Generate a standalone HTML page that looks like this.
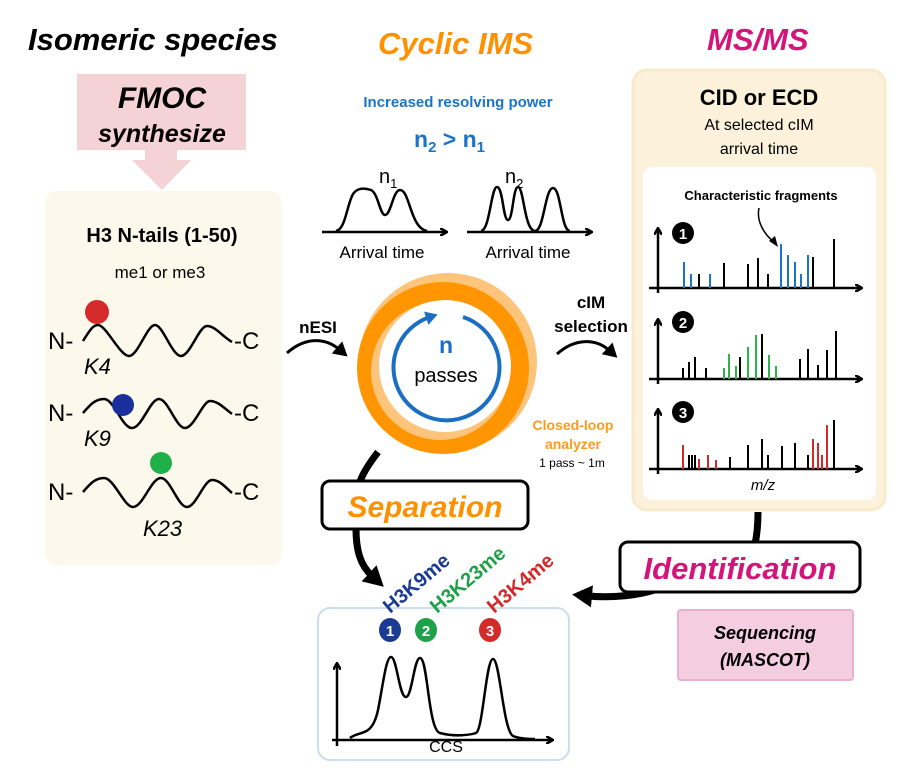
<!DOCTYPE html>
<html><head><meta charset="utf-8"><style>
html,body{margin:0;padding:0;background:#fff;}
svg{display:block;font-family:"Liberation Sans",Arial,sans-serif;}
</style></head><body>
<svg width="911" height="780" viewBox="0 0 911 780" xmlns="http://www.w3.org/2000/svg">
<defs>
<marker id="ah" markerWidth="8" markerHeight="8" refX="6" refY="4" orient="auto" markerUnits="userSpaceOnUse">
<path d="M0,0 L7,4 L0,8" fill="none" stroke="#000" stroke-width="2.5"/></marker>
<marker id="bh" markerWidth="14" markerHeight="14" refX="4" refY="7" orient="auto" markerUnits="userSpaceOnUse">
<path d="M0,0 L12,7 L0,14 Z" fill="#1a6fc4"/></marker>
<marker id="kh" markerWidth="16" markerHeight="16" refX="4" refY="8" orient="auto" markerUnits="userSpaceOnUse">
<path d="M0,0 L14,8 L0,16 Z" fill="#000"/></marker>
<marker id="kh2" markerWidth="22" markerHeight="22" refX="4" refY="11" orient="auto" markerUnits="userSpaceOnUse">
<path d="M0,0 L20,11 L0,22 Z" fill="#000"/></marker>
</defs>

<text x="28" y="50" font-size="31" font-weight="bold" font-style="italic">Isomeric species</text>
<text x="378" y="54" font-size="31" font-weight="bold" font-style="italic" fill="#ff9000">Cyclic IMS</text>
<text x="707" y="50" font-size="31" font-weight="bold" font-style="italic" fill="#d4147a">MS/MS</text>

<rect x="77" y="74" width="169" height="76" fill="#f5d2d6"/>
<rect x="145" y="150" width="32" height="10" fill="#f5d2d6"/>
<polygon points="132,160 191,160 162,190" fill="#f5d2d6"/>
<text x="162" y="108" font-size="30" font-weight="bold" font-style="italic" text-anchor="middle">FMOC</text>
<text x="162" y="142" font-size="25" font-weight="bold" font-style="italic" text-anchor="middle">synthesize</text>

<rect x="45" y="191" width="237" height="374" rx="12" fill="#fcf9ec"/>
<text x="162" y="242" font-size="20" font-weight="bold" text-anchor="middle">H3 N-tails (1-50)</text>
<text x="160" y="278" font-size="17" text-anchor="middle">me1 or me3</text>

<g font-size="24" fill="#000">
<text x="48" y="349">N-</text><text x="234" y="349">-C</text>
<text x="48" y="421">N-</text><text x="234" y="421">-C</text>
<text x="48" y="500">N-</text><text x="234" y="500">-C</text>
</g>
<g fill="none" stroke="#000" stroke-width="2.5">
<path d="M83,341 C90,330 93,325 98,325 C106,325 120,356 129,356 C138,356 147,325 155,325 C163,325 172,356 181,356 C190,356 199,326 207,326 C215,326 222,336 232,342"/>
<path d="M83,413 C90,405 95,399 104,399 C114,399 122,428 132,428 C142,428 150,399 159,399 C168,399 176,428 185,428 C194,428 203,401 210,401 C218,401 224,408 232,414"/>
<path d="M83,492 C90,484 95,478 104,478 C114,478 124,507 133,507 C143,507 151,478 161,478 C170,478 178,507 187,507 C196,507 204,480 212,480 C220,480 225,487 232,493"/>
</g>
<circle cx="97" cy="312" r="12" fill="#d42a2a"/>
<circle cx="123" cy="405" r="11" fill="#1b2f9c"/>
<circle cx="161" cy="463" r="11" fill="#1fb04a"/>
<g font-size="22" font-style="italic">
<text x="84" y="374">K4</text>
<text x="84" y="446">K9</text>
<text x="143" y="536">K23</text>
</g>

<text x="458" y="107" font-size="15" font-weight="bold" fill="#1a75c8" text-anchor="middle">Increased resolving power</text>
<text x="414" y="147" font-size="23" font-weight="bold" fill="#1a75c8">n<tspan font-size="15" dy="5">2</tspan><tspan dy="-5"> &gt; n</tspan><tspan font-size="15" dy="5">1</tspan></text>

<g fill="none" stroke="#000" stroke-width="2.5">
<line x1="322" y1="232" x2="446" y2="232" marker-end="url(#ah)"/>
<path d="M336,231 C345,229 346,210 352,196 C356,187 365,188 371,190 C378,193 380,215 385,215 C391,215 393,190 400,190 C410,190 410,228 427,231"/>
<line x1="467" y1="232" x2="591" y2="232" marker-end="url(#ah)"/>
<path d="M481,231 C490,230 491,187 497,187 C503,187 503,220 508,220 C513,220 513,187 518,187 C524,187 524,230 535,231 C544,231 545,188 553,188 C561,188 561,231 570,231"/>
</g>
<text x="379" y="183" font-size="20">n<tspan font-size="13" dy="5">1</tspan></text>
<text x="505" y="183" font-size="20">n<tspan font-size="13" dy="5">2</tspan></text>
<text x="382" y="258" font-size="17" text-anchor="middle">Arrival time</text>
<text x="528" y="258" font-size="17" text-anchor="middle">Arrival time</text>

<!-- ring -->
<circle cx="448" cy="362" r="89" fill="#fcc57b"/>
<circle cx="443" cy="368" r="86" fill="#ff9500"/>
<circle cx="440" cy="371" r="69" fill="#fcc57b"/>
<circle cx="445" cy="366" r="66" fill="#fff"/>
<path d="M463,317 A53,53 0 1 1 430,317" fill="none" stroke="#1a6fc4" stroke-width="4" marker-end="url(#bh)"/>
<text x="446" y="353" font-size="23" font-weight="bold" fill="#1a6fc4" text-anchor="middle">n</text>
<text x="446" y="382" font-size="20" text-anchor="middle">passes</text>

<text x="318" y="333" font-size="17" font-weight="bold" text-anchor="middle">nESI</text>
<path d="M287,353 C305,337 325,337 340,350" fill="none" stroke="#000" stroke-width="3" marker-end="url(#kh)"/>
<text x="591" y="308" font-size="17" font-weight="bold" text-anchor="middle">cIM</text>
<text x="591" y="332" font-size="17" font-weight="bold" text-anchor="middle">selection</text>
<path d="M557,354 C575,338 596,338 610,351" fill="none" stroke="#000" stroke-width="3" marker-end="url(#kh)"/>

<text x="573" y="430" font-size="14" font-weight="bold" fill="#ff9a1a" text-anchor="middle">Closed-loop</text>
<text x="573" y="449" font-size="14" font-weight="bold" fill="#ff9a1a" text-anchor="middle">analyzer</text>
<text x="572" y="467" font-size="12" text-anchor="middle">1 pass ~ 1m</text>

<rect x="633" y="70" width="252" height="440" rx="14" fill="#fcf2dc" stroke="#f8ebcd" stroke-width="3"/>
<rect x="643" y="167" width="233" height="333" rx="10" fill="#fff"/>
<text x="759" y="105" font-size="22" font-weight="bold" text-anchor="middle">CID or ECD</text>
<text x="759" y="130" font-size="16" text-anchor="middle">At selected cIM</text>
<text x="759" y="154" font-size="16" text-anchor="middle">arrival time</text>
<text x="761" y="200" font-size="13" font-weight="bold" text-anchor="middle">Characteristic fragments</text>
<path d="M759,208 C756,222 765,235 774,242" fill="none" stroke="#000" stroke-width="1.5"/>
<polygon points="778,247 769,241 775,236" fill="#000"/>

<g stroke="#000" stroke-width="2.5" fill="none">
<line x1="658" y1="293" x2="658" y2="229" marker-end="url(#ah)"/>
<line x1="649" y1="288" x2="861" y2="288" marker-end="url(#ah)"/>
<line x1="658" y1="384" x2="658" y2="320" marker-end="url(#ah)"/>
<line x1="649" y1="379" x2="861" y2="379" marker-end="url(#ah)"/>
<line x1="658" y1="474" x2="658" y2="410" marker-end="url(#ah)"/>
<line x1="649" y1="469" x2="861" y2="469" marker-end="url(#ah)"/>
</g>
<g stroke-width="2">
<line x1="684" y1="288" x2="684" y2="262" stroke="#1a75c8"/>
<line x1="691" y1="288" x2="691" y2="274" stroke="#1a75c8"/>
<line x1="699" y1="288" x2="699" y2="274" stroke="#000"/>
<line x1="710" y1="288" x2="710" y2="274" stroke="#1a75c8"/>
<line x1="724" y1="288" x2="724" y2="263" stroke="#000"/>
<line x1="748" y1="288" x2="748" y2="264" stroke="#000"/>
<line x1="758" y1="288" x2="758" y2="258" stroke="#000"/>
<line x1="768" y1="288" x2="768" y2="274" stroke="#000"/>
<line x1="781" y1="288" x2="781" y2="244" stroke="#1a75c8"/>
<line x1="788" y1="288" x2="788" y2="255" stroke="#1a75c8"/>
<line x1="795" y1="288" x2="795" y2="262" stroke="#1a75c8"/>
<line x1="801" y1="288" x2="801" y2="274" stroke="#1a75c8"/>
<line x1="808" y1="288" x2="808" y2="255" stroke="#1a75c8"/>
<line x1="813" y1="288" x2="813" y2="257" stroke="#000"/>
<line x1="834" y1="288" x2="834" y2="239" stroke="#000"/>
<line x1="683" y1="379" x2="683" y2="368" stroke="#000"/>
<line x1="689" y1="379" x2="689" y2="362" stroke="#000"/>
<line x1="695" y1="379" x2="695" y2="357" stroke="#000"/>
<line x1="706" y1="379" x2="706" y2="368" stroke="#000"/>
<line x1="724" y1="379" x2="724" y2="368" stroke="#2db34a"/>
<line x1="729" y1="379" x2="729" y2="354" stroke="#2db34a"/>
<line x1="736" y1="379" x2="736" y2="366" stroke="#2db34a"/>
<line x1="740" y1="379" x2="740" y2="357" stroke="#000"/>
<line x1="748" y1="379" x2="748" y2="347" stroke="#2db34a"/>
<line x1="756" y1="379" x2="756" y2="335" stroke="#2db34a"/>
<line x1="762" y1="379" x2="762" y2="334" stroke="#000"/>
<line x1="769" y1="379" x2="769" y2="355" stroke="#2db34a"/>
<line x1="776" y1="379" x2="776" y2="366" stroke="#2db34a"/>
<line x1="800" y1="379" x2="800" y2="359" stroke="#000"/>
<line x1="808" y1="379" x2="808" y2="349" stroke="#000"/>
<line x1="818" y1="379" x2="818" y2="365" stroke="#000"/>
<line x1="827" y1="379" x2="827" y2="350" stroke="#000"/>
<line x1="836" y1="379" x2="836" y2="331" stroke="#000"/>
<line x1="683" y1="469" x2="683" y2="445" stroke="#d42a2a"/>
<line x1="689" y1="469" x2="689" y2="455" stroke="#000"/>
<line x1="692" y1="469" x2="692" y2="455" stroke="#000"/>
<line x1="695" y1="469" x2="695" y2="455" stroke="#000"/>
<line x1="699" y1="469" x2="699" y2="459" stroke="#d42a2a"/>
<line x1="708" y1="469" x2="708" y2="455" stroke="#d42a2a"/>
<line x1="716" y1="469" x2="716" y2="460" stroke="#d42a2a"/>
<line x1="730" y1="469" x2="730" y2="457" stroke="#000"/>
<line x1="748" y1="469" x2="748" y2="445" stroke="#000"/>
<line x1="762" y1="469" x2="762" y2="439" stroke="#000"/>
<line x1="768" y1="469" x2="768" y2="455" stroke="#000"/>
<line x1="782" y1="469" x2="782" y2="446" stroke="#000"/>
<line x1="795" y1="469" x2="795" y2="443" stroke="#000"/>
<line x1="808" y1="469" x2="808" y2="455" stroke="#000"/>
<line x1="813" y1="469" x2="813" y2="439" stroke="#d42a2a"/>
<line x1="818" y1="469" x2="818" y2="443" stroke="#d42a2a"/>
<line x1="822" y1="469" x2="822" y2="455" stroke="#d42a2a"/>
<line x1="827" y1="469" x2="827" y2="425" stroke="#d42a2a"/>
<line x1="834" y1="469" x2="834" y2="420" stroke="#000"/>
</g>
<g font-size="15" font-weight="bold" fill="#fff" text-anchor="middle">
<circle cx="683" cy="233" r="11" fill="#000"/><text x="683" y="239">1</text>
<circle cx="683" cy="322" r="11" fill="#000"/><text x="683" y="328">2</text>
<circle cx="683" cy="412" r="11" fill="#000"/><text x="683" y="418">3</text>
</g>
<text x="763" y="490" font-size="15" font-style="italic" text-anchor="middle">m/z</text>

<path d="M378,452 C368,465 362,475 360,482" fill="none" stroke="#000" stroke-width="7"/>
<path d="M356,528 C356,550 360,565 372,576" fill="none" stroke="#000" stroke-width="7" marker-end="url(#kh2)"/>
<path d="M758,512 C758,525 757,535 755,544" fill="none" stroke="#000" stroke-width="7"/>
<path d="M660,588 C640,596 610,598 588,596" fill="none" stroke="#000" stroke-width="7" marker-end="url(#kh2)"/>

<rect x="322" y="481" width="206" height="48" rx="8" fill="#fff" stroke="#000" stroke-width="3"/>
<text x="425" y="517" font-size="30" font-weight="bold" font-style="italic" fill="#ff9000" text-anchor="middle">Separation</text>
<rect x="620" y="542" width="240" height="50" rx="8" fill="#fff" stroke="#000" stroke-width="3"/>
<text x="740" y="579" font-size="31" font-weight="bold" font-style="italic" fill="#d4147a" text-anchor="middle">Identification</text>
<rect x="678" y="610" width="175" height="70" rx="3" fill="#f5cde1" stroke="#eab0cf" stroke-width="2"/>
<text x="765" y="639" font-size="18" font-weight="bold" font-style="italic" text-anchor="middle">Sequencing</text>
<text x="765" y="666" font-size="18" font-weight="bold" font-style="italic" text-anchor="middle">(MASCOT)</text>

<rect x="318" y="608" width="251" height="152" rx="12" fill="#fff" stroke="#cddcef" stroke-width="2"/>
<g font-size="20" font-weight="bold">
<text transform="translate(390,614) rotate(-40)" fill="#1b3a94">H3K9me</text>
<text transform="translate(437,614) rotate(-40)" fill="#1fa14a">H3K23me</text>
<text transform="translate(494,614) rotate(-40)" fill="#d42a2a">H3K4me</text>
</g>
<g font-size="15" font-weight="bold" fill="#fff" text-anchor="middle">
<ellipse cx="390" cy="630" rx="11" ry="12" fill="#1b3a94"/><text x="390" y="636">1</text>
<ellipse cx="426" cy="630" rx="11" ry="12" fill="#1fa14a"/><text x="426" y="636">2</text>
<ellipse cx="490" cy="630" rx="11" ry="12" fill="#d42a2a"/><text x="490" y="636">3</text>
</g>
<g fill="none" stroke="#000" stroke-width="2.5">
<line x1="337" y1="746" x2="337" y2="664" marker-end="url(#ah)"/>
<line x1="332" y1="740" x2="552" y2="740" marker-end="url(#ah)"/>
<path d="M350,738 C360,730 372,738 378,710 C383,685 386,657 391,657 C397,657 399,697 406,697 C412,697 414,658 420,658 C428,658 428,730 440,733 C455,737 470,735 476,733 C483,730 486,659 493,659 C500,659 503,730 513,736 C520,739 530,739 535,739"/>
</g>
<text x="446" y="752" font-size="16" text-anchor="middle">CCS</text>
</svg>
</body></html>
